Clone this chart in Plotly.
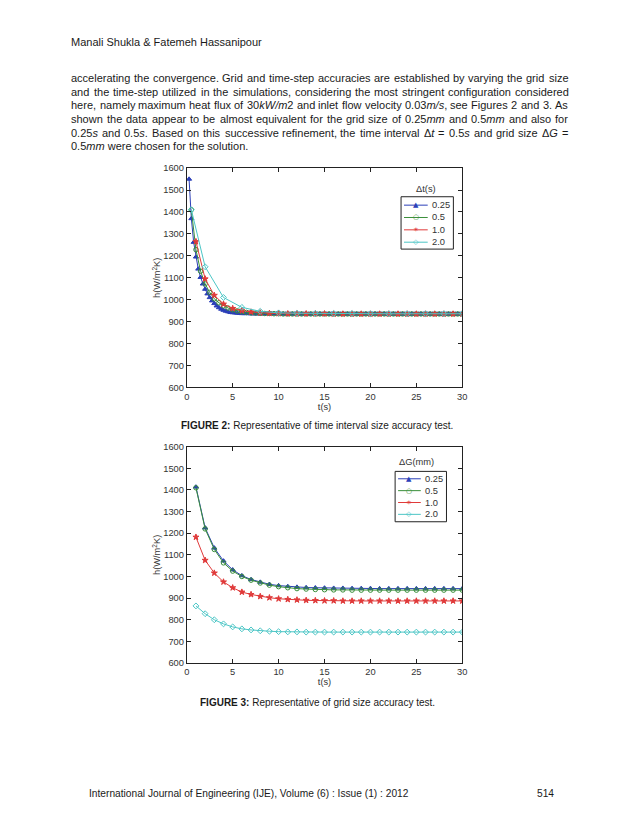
import re
import plotly.graph_objects as go

W, H = 638, 826
BODY = 8  # default <body> margin of the html page
FONT = "Liberation Sans, Arial, sans-serif"
GLYPH_FONT = "DejaVu Sans, sans-serif"
TEXT = "#1a1a1a"
AXIS = "#333333"

BLUE = "#2b3fb8"
GREEN = "#3a8f3a"
RED = "#e03a3a"
CYAN = "#4cc6c6"

# ---- Figure 2: time interval size (dt) ----
T_025 = [0.25, 0.5, 0.75, 1.0, 1.25, 1.5, 1.75, 2.0, 2.25, 2.5, 2.75, 3.0,
         3.25, 3.5, 3.75, 4.0, 4.25, 4.5, 4.75, 5.0, 5.25, 5.5, 5.75, 6.0,
         6.25, 6.5, 6.75, 7.0, 7.25, 7.5, 7.75, 8.0, 8.25, 8.5, 8.75, 9.0,
         9.25, 9.5, 9.75, 10.0, 10.25, 10.5, 10.75, 11.0, 11.25, 11.5, 11.75, 12.0,
         12.25, 12.5, 12.75, 13.0, 13.25, 13.5, 13.75, 14.0, 14.25, 14.5, 14.75, 15.0,
         15.25, 15.5, 15.75, 16.0, 16.25, 16.5, 16.75, 17.0, 17.25, 17.5, 17.75, 18.0,
         18.25, 18.5, 18.75, 19.0, 19.25, 19.5, 19.75, 20.0, 20.25, 20.5, 20.75, 21.0,
         21.25, 21.5, 21.75, 22.0, 22.25, 22.5, 22.75, 23.0, 23.25, 23.5, 23.75, 24.0,
         24.25, 24.5, 24.75, 25.0, 25.25, 25.5, 25.75, 26.0, 26.25, 26.5, 26.75, 27.0,
         27.25, 27.5, 27.75, 28.0, 28.25, 28.5, 28.75, 29.0, 29.25, 29.5, 29.75, 30.0]
H_025 = [1550, 1370, 1262, 1195, 1140, 1102, 1072, 1048, 1027, 1010, 995, 983,
         972, 964, 957, 952, 948, 945, 942, 941, 940, 939, 938, 937,
         937, 937, 937, 936, 936, 936, 936, 936, 936, 936, 936, 936,
         936, 936, 936, 936, 935, 935, 935, 935, 935, 935, 935, 935,
         935, 935, 935, 935, 935, 935, 935, 935, 935, 935, 935, 935,
         935, 935, 935, 935, 935, 935, 935, 935, 935, 935, 935, 935,
         935, 935, 935, 935, 935, 935, 935, 935, 935, 935, 935, 935,
         935, 935, 935, 935, 935, 935, 935, 935, 935, 935, 935, 935,
         935, 935, 935, 935, 935, 935, 935, 935, 935, 935, 935, 935,
         935, 935, 935, 935, 935, 935, 935, 935, 935, 935, 935, 935]

T_05 = [0.5, 1.0, 1.5, 2.0, 2.5, 3.0, 3.5, 4.0, 4.5, 5.0, 5.5, 6.0,
        6.5, 7.0, 7.5, 8.0, 8.5, 9.0, 9.5, 10.0, 10.5, 11.0, 11.5, 12.0,
        12.5, 13.0, 13.5, 14.0, 14.5, 15.0, 15.5, 16.0, 16.5, 17.0, 17.5, 18.0,
        18.5, 19.0, 19.5, 20.0, 20.5, 21.0, 21.5, 22.0, 22.5, 23.0, 23.5, 24.0,
        24.5, 25.0, 25.5, 26.0, 26.5, 27.0, 27.5, 28.0, 28.5, 29.0, 29.5, 30.0]
H_05 = [1410, 1228, 1130, 1072, 1033, 1004, 986, 972, 962, 954, 949, 945,
        942, 940, 939, 938, 937, 937, 936, 936, 935, 935, 935, 935,
        935, 935, 935, 935, 935, 935, 935, 935, 935, 935, 935, 935,
        935, 935, 935, 935, 935, 935, 935, 935, 935, 935, 935, 935,
        935, 935, 935, 935, 935, 935, 935, 935, 935, 935, 935, 935]

T_1 = [1, 2, 3, 4, 5, 6, 7, 8, 9, 10, 11, 12, 13, 14, 15,
       16, 17, 18, 19, 20, 21, 22, 23, 24, 25, 26, 27, 28, 29, 30]
H_1 = [1265, 1095, 1020, 980, 960, 950, 944, 940, 938, 937, 936, 936, 936, 936, 936,
       935, 935, 935, 935, 935, 935, 935, 935, 935, 935, 935, 935, 935, 935, 935]

T_2 = [0.5, 2, 4, 6, 8, 10, 12, 14, 16, 18, 20, 22, 24, 26, 28, 30]
H_2 = [1410, 1150, 1010, 965, 947, 940, 938, 937, 937, 937, 936, 936, 936, 936, 936, 936]

# ---- Figure 3: grid size (dG) ----
T_G = [1, 2, 3, 4, 5, 6, 7, 8, 9, 10, 11, 12, 13, 14, 15,
       16, 17, 18, 19, 20, 21, 22, 23, 24, 25, 26, 27, 28, 29, 30]
G_025 = [1414, 1225, 1132, 1072, 1031, 1004, 986, 974, 964, 958, 954, 951, 949, 948, 947,
         946, 946, 945, 945, 945, 944, 944, 944, 944, 944, 944, 944, 944, 944, 944]
G_05 = [1410, 1220, 1125, 1063, 1025, 1000, 983, 970, 960, 953, 948, 944, 942, 940, 939,
        938, 938, 937, 937, 937, 937, 937, 937, 937, 937, 937, 937, 937, 937, 937]
G_1 = [1182, 1075, 1016, 975, 948, 928, 917, 908, 902, 897, 894, 892, 890, 889, 888,
       888, 887, 887, 887, 887, 887, 887, 887, 887, 887, 887, 887, 887, 887, 887]
G_2 = [864, 828, 800, 781, 767, 758, 753, 749, 747, 745, 744, 744, 743, 743, 743,
       743, 743, 743, 743, 743, 743, 743, 743, 743, 743, 743, 743, 743, 743, 743]

LEGEND_NAMES = ["0.25", "0.5", "1.0", "2.0"]
COLORS = [BLUE, GREEN, RED, CYAN]
SYMBOLS = ["triangle-up", "circle-open", "star", "diamond-open"]
GLYPHS = ["\u25b2", "\u25cb", "\u2736", "\u25c7"]

HEADER = "Manali Shukla & Fatemeh Hassanipour"
PARAGRAPH = [
    "accelerating the convergence. Grid and time-step accuracies are established by varying the grid size",
    "and the time-step utilized in the simulations, considering the most stringent configuration considered",
    "here, namely maximum heat flux of 30<i>kW/m</i>2 and inlet flow velocity 0.03<i>m/s</i>, see Figures 2 and 3. As",
    "shown the data appear to be almost equivalent for the grid size of 0.25<i>mm</i> and 0.5<i>mm</i> and also for",
    "0.25<i>s</i> and 0.5<i>s</i>. Based on this successive refinement, the time interval \u0394<i>t</i> = 0.5<i>s</i> and grid size \u0394<i>G</i> =",
    "0.5<i>mm</i> were chosen for the solution.",
]
CAPTION2 = "<b>FIGURE 2:</b> Representative of time interval size accuracy test."
CAPTION3 = "<b>FIGURE 3:</b> Representative of grid size accuracy test."
FOOTER = "International Journal of Engineering (IJE), Volume (6) : Issue (1) : 2012"
PAGE_NO = "514"

# Arial / Liberation Sans advance widths (1/1000 em), used to justify the paragraph
ADV = {" ": 278, ",": 278, ".": 278, "-": 333, "/": 278, "=": 584, "(": 333, ")": 333,
       "\u0394": 668, "A": 667, "B": 667, "F": 611, "G": 778, "S": 667, "W": 944}
ADV.update({d: 556 for d in "0123456789"})
ADV.update(dict(zip("abcdefghijklmnopqrstuvwxyz",
                    [556, 556, 500, 556, 556, 278, 556, 556, 222, 222, 500, 222, 833,
                     556, 556, 556, 556, 333, 500, 278, 556, 500, 722, 500, 500, 500])))


def text_width(s, size):
    plain = re.sub(r"<[^>]+>", "", s)
    return sum(ADV.get(c, 556) for c in plain) * size / 1000


# page pixel -> paper fraction (the page div sits inside the body margin)
def px(x):
    return (x - BODY) / W


def py(y):
    return 1 - (y - BODY) / H


fig = go.Figure()

fig2_data = [(T_025, H_025), (T_05, H_05), (T_1, H_1), (T_2, H_2)]
fig3_data = [(T_G, G_025), (T_G, G_05), (T_G, G_1), (T_G, G_2)]

for axes, data in ((("x", "y"), fig2_data), (("x2", "y2"), fig3_data)):
    for (t, h), name, col, sym in zip(data, LEGEND_NAMES, COLORS, SYMBOLS):
        fig.add_trace(go.Scatter(
            x=t, y=h, name=name, mode="lines+markers",
            line=dict(color=col, width=1),
            marker=dict(symbol=sym, size=4.5, color=col, line=dict(color=col, width=1)),
            xaxis=axes[0], yaxis=axes[1], showlegend=False,
        ))

axis_common = dict(
    showline=True, linecolor="#222", linewidth=1, mirror="ticks",
    ticks="inside", ticklen=4, tickcolor="#222", showgrid=False, zeroline=False,
    tickfont=dict(family=FONT, size=9.3, color=AXIS),
)
xaxis = dict(axis_common, range=[0, 30], tickvals=[0, 5, 10, 15, 20, 25, 30],
             title=dict(text="t(s)", font=dict(family=FONT, size=9.3, color=AXIS), standoff=2))
yaxis = dict(axis_common, range=[600, 1600], dtick=100,
             title=dict(text="h(W/m<sup>2</sup>K)", font=dict(family=FONT, size=9.3, color=AXIS), standoff=0))

annotations = []
shapes = []


def note(text, x, y, size, xanchor="left", family=FONT, color=TEXT):
    annotations.append(dict(
        text=text, x=px(x), y=py(y), xref="paper", yref="paper", showarrow=False,
        xanchor=xanchor, yanchor="middle", font=dict(family=family, size=size, color=color),
    ))


# page text
LEFT, RIGHT, SIZE = 67, 570, 11
note(HEADER, LEFT, 37, SIZE)
for i, line in enumerate(PARAGRAPH):
    y = 74 + 13.8 * i
    if i == len(PARAGRAPH) - 1:
        note(line, LEFT, y, SIZE)
        continue
    # justified line: spread the words over the full column width
    words = line.split(" ")
    widths = [text_width(w, SIZE) for w in words]
    gap = (RIGHT - LEFT - sum(widths)) / (len(words) - 1)
    x = LEFT
    for w, wd in zip(words, widths):
        note(w, x, y, SIZE)
        x += wd + gap
note(CAPTION2, 318, 426, 10, xanchor="center")
note(CAPTION3, 318, 706, 10, xanchor="center")
note(FOOTER, 85, 798, 10.2)
note(PAGE_NO, 560, 798, 10.2, xanchor="right")


# compact boxed legends drawn by hand (matlab style)
def legend_box(title, title_x, title_y, x0, y0, x1, y1, line_x0, line_x1, row_y):
    note(title, title_x, title_y, 9.3, xanchor="center", color=AXIS)
    shapes.append(dict(type="rect", xref="paper", yref="paper",
                       x0=px(x0), x1=px(x1), y0=py(y0), y1=py(y1),
                       line=dict(color="#222", width=1), fillcolor="white", layer="above"))
    for name, col, glyph, yy in zip(LEGEND_NAMES, COLORS, GLYPHS, row_y):
        shapes.append(dict(type="line", xref="paper", yref="paper",
                           x0=px(line_x0), x1=px(line_x1), y0=py(yy), y1=py(yy),
                           line=dict(color=col, width=1), layer="above"))
        note(glyph, (line_x0 + line_x1) / 2, yy, 7, xanchor="center",
             family=GLYPH_FONT, color=col)
        note(name, line_x1 + 2, yy, 9.3, color=AXIS)


legend_box("\u0394t(s)", 428, 186, 403, 194, 456, 247, 406, 430, [202.5, 215, 227.5, 240])
legend_box("\u0394G(mm)", 419, 462, 397, 472, 449, 523, 400, 423, [479.5, 491.5, 503.5, 515.5])

fig.update_layout(
    width=W, height=H,
    margin=dict(l=0, r=0, t=0, b=0),
    paper_bgcolor="white", plot_bgcolor="white",
    showlegend=False,
    xaxis=dict(xaxis, domain=[px(186), px(465)], anchor="y"),
    yaxis=dict(yaxis, domain=[py(387), py(165)], anchor="x"),
    xaxis2=dict(xaxis, domain=[px(186), px(465)], anchor="y2"),
    yaxis2=dict(yaxis, domain=[py(666), py(447)], anchor="x2"),
    annotations=annotations,
    shapes=shapes,
)

fig.write_html("out.html")
